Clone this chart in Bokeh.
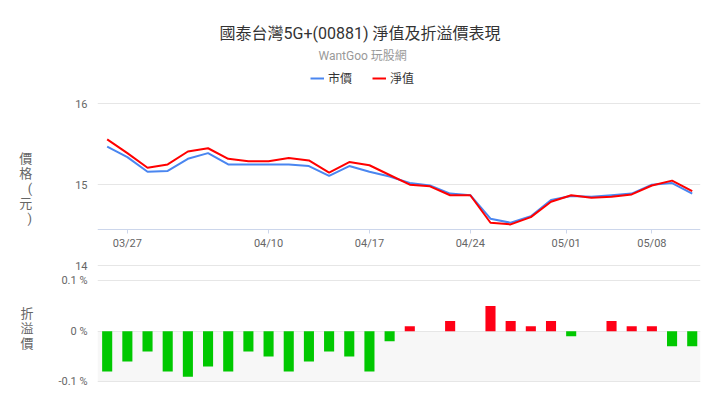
import numpy as np
import pandas as pd
from bokeh.plotting import figure
from bokeh.layouts import column
from bokeh.models import (ColumnDataSource, FixedTicker, Legend, LegendItem,
                          Title, BoxAnnotation, Range1d)
from bokeh.embed import file_html
from bokeh.resources import INLINE

# trading days (ordinal axis, holidays skipped)
dates = ["2023-03-24", "2023-03-27", "2023-03-28", "2023-03-29", "2023-03-30",
         "2023-03-31", "2023-04-06", "2023-04-07", "2023-04-10", "2023-04-11",
         "2023-04-12", "2023-04-13", "2023-04-14", "2023-04-17", "2023-04-18",
         "2023-04-19", "2023-04-20", "2023-04-21", "2023-04-24", "2023-04-25",
         "2023-04-26", "2023-04-27", "2023-04-28", "2023-05-02", "2023-05-03",
         "2023-05-04", "2023-05-05", "2023-05-08", "2023-05-09", "2023-05-10"]
market_price = [15.47, 15.34, 15.16, 15.17, 15.32, 15.39, 15.25, 15.25, 15.25, 15.25,
                15.23, 15.11, 15.23, 15.16, 15.10, 15.02, 14.99, 14.89, 14.87, 14.58,
                14.53, 14.61, 14.81, 14.86, 14.85, 14.87, 14.89, 15.00, 15.02, 14.89]
nav = [15.56, 15.39, 15.21, 15.25, 15.41, 15.45, 15.32, 15.29, 15.29, 15.33,
       15.30, 15.15, 15.28, 15.24, 15.12, 15.00, 14.98, 14.87, 14.87, 14.53,
       14.51, 14.60, 14.79, 14.87, 14.84, 14.85, 14.88, 14.99, 15.05, 14.92]
premium = [-0.08, -0.06, -0.04, -0.08, -0.09, -0.07, -0.08, -0.04, -0.05, -0.08,
           -0.06, -0.04, -0.05, -0.08, -0.02, 0.01, 0.0, 0.02, 0.0, 0.05,
           0.02, 0.01, 0.02, -0.01, 0.0, 0.02, 0.01, 0.01, -0.03, -0.03]
tick_dates = ["2023-03-27", "2023-04-10", "2023-04-17", "2023-04-24", "2023-05-01", "2023-05-08"]
price_ticks = [14, 15, 16]
premium_ticks = [-0.1, 0, 0.1]
premium_labels = ["-0.1 %", "0 %", "0.1 %"]

FONT = "Roboto, Noto Sans CJK TC"

idx = np.arange(len(dates))
dt = pd.to_datetime(dates).astype("int64")
tick_pos = np.interp(pd.to_datetime(tick_dates).astype("int64"), dt, idx)
tick_labels = {float(t): d[5:].replace("-", "/") for t, d in zip(tick_pos, tick_dates)}

src = ColumnDataSource(dict(x=idx, price=market_price, nav=nav))
bar_src = ColumnDataSource(dict(
    x=idx, premium=premium,
    color=["#ff0016" if v > 0 else "#00c800" for v in premium]))

x_range = Range1d(-0.48, 29.41)

# price pane: y axis runs down to 14 and the legend sits in its empty top
p = figure(title="國泰台灣5G+(00881) 淨值及折溢價表現",
           frame_width=603, frame_height=202,
           x_range=x_range, y_range=Range1d(13.99, 16.484),
           min_border_left=97, min_border_right=20, min_border_top=64, min_border_bottom=6,
           output_backend="svg", toolbar_location=None)
p.outline_line_color = None

l_price = p.line("x", "price", source=src, line_color="#4a86f0", line_width=2)
l_nav = p.line("x", "nav", source=src, line_color="#ff0000", line_width=2)

p.title.text_font = FONT
p.title.text_font_size = "16px"
p.title.text_font_style = "normal"
p.title.text_color = "#333333"
p.title.align = "left"
p.title.vertical_align = "middle"
p.title.offset = 122
p.title.standoff = 5
p.add_layout(Title(text="WantGoo 玩股網", text_font=FONT, text_font_size="12px",
                   text_font_style="normal", text_color="#999999", align="left",
                   vertical_align="middle", offset=221, standoff=2), "above")

legend = Legend(items=[LegendItem(label="市價", renderers=[l_price]),
                       LegendItem(label="淨值", renderers=[l_nav])],
                orientation="horizontal", location=(213, 180), margin=0, padding=0,
                spacing=20, label_standoff=4, glyph_width=14,
                glyph_height=16, label_height=16, label_text_font=FONT,
                label_text_font_size="12px", label_text_color="#333333",
                border_line_alpha=0, background_fill_alpha=0)
p.add_layout(legend)

p.xgrid.visible = False
p.ygrid.ticker = FixedTicker(ticks=price_ticks)
p.ygrid.grid_line_color = "#e6e6e6"

p.yaxis.ticker = FixedTicker(ticks=price_ticks)
p.yaxis.axis_line_color = None
p.yaxis.major_tick_line_color = None
p.yaxis.minor_tick_line_color = None
p.yaxis.major_label_standoff = 4
p.yaxis.major_label_text_font = FONT
p.yaxis.major_label_text_font_size = "11px"
p.yaxis.major_label_text_color = "#666666"
p.yaxis.axis_label = "\n\n\n價\n格\n(\n元\n)"
p.yaxis.axis_label_orientation = "horizontal"
p.yaxis.axis_label_text_font = FONT
p.yaxis.axis_label_text_font_size = "13px"
p.yaxis.axis_label_text_font_style = "normal"
p.yaxis.axis_label_text_color = "#666666"
p.yaxis.axis_label_text_line_height = 1.0
p.yaxis.axis_label_standoff = 40

# date axis sits inside the pane, just under the price lines
p.xaxis.fixed_location = 14.448
p.xaxis.ticker = FixedTicker(ticks=list(tick_labels.keys()))
p.xaxis.major_label_overrides = tick_labels
p.xaxis.axis_line_color = "#ccd6eb"
p.xaxis.major_tick_line_color = "#ccd6eb"
p.xaxis.major_tick_in = 0
p.xaxis.major_tick_out = 4
p.xaxis.minor_tick_line_color = None
p.xaxis.major_label_standoff = 4
p.xaxis.major_label_text_font = FONT
p.xaxis.major_label_text_font_size = "11px"
p.xaxis.major_label_text_color = "#666666"

# premium / discount pane
p2 = figure(frame_width=603, frame_height=108, x_range=x_range,
            y_range=Range1d(-0.1016, 0.1123), x_axis_location=None,
            min_border_left=97, min_border_right=20, min_border_top=2, min_border_bottom=10,
            output_backend="svg", toolbar_location=None)
p2.outline_line_color = None
p2.add_layout(BoxAnnotation(top=0, bottom=-0.1, fill_color="#f7f7f7", fill_alpha=1,
                            line_color=None, level="image"))
p2.vbar(x="x", top="premium", bottom=0, width=0.5, fill_color="color",
        line_color=None, source=bar_src)

p2.xgrid.visible = False
p2.ygrid.ticker = FixedTicker(ticks=premium_ticks)
p2.ygrid.grid_line_color = "#e6e6e6"
p2.yaxis.ticker = FixedTicker(ticks=premium_ticks)
p2.yaxis.major_label_overrides = dict(zip(premium_ticks, premium_labels))
p2.yaxis.axis_line_color = None
p2.yaxis.major_tick_line_color = None
p2.yaxis.minor_tick_line_color = None
p2.yaxis.major_label_standoff = 4
p2.yaxis.major_label_text_font = FONT
p2.yaxis.major_label_text_font_size = "11px"
p2.yaxis.major_label_text_color = "#666666"
p2.yaxis.axis_label = "折\n溢\n價"
p2.yaxis.axis_label_orientation = "horizontal"
p2.yaxis.axis_label_text_font = FONT
p2.yaxis.axis_label_text_font_size = "13px"
p2.yaxis.axis_label_text_font_style = "normal"
p2.yaxis.axis_label_text_color = "#666666"
p2.yaxis.axis_label_text_line_height = 1.0
p2.yaxis.axis_label_standoff = 22

layout = column(p, p2)
open("out.html", "w").write(file_html(layout, INLINE))
